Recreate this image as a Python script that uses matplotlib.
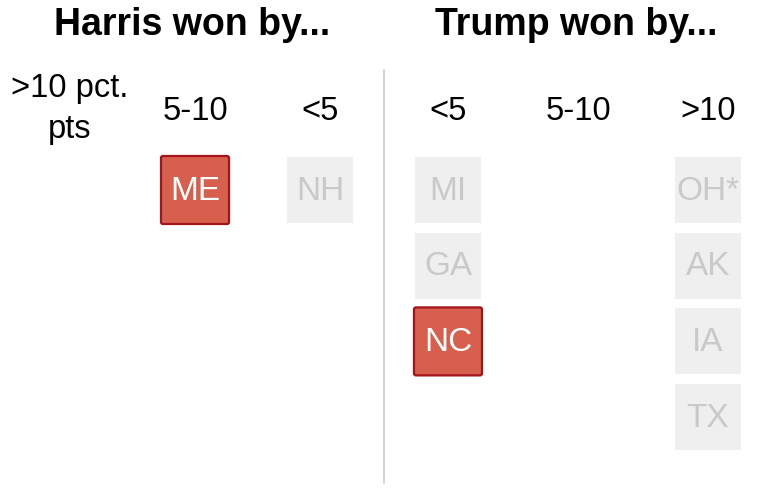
import matplotlib.pyplot as plt
from matplotlib.patches import FancyBboxPatch

# groups and column labels
headers = ["Harris won by...", "Trump won by..."]
harris_cols = [">10 pct.\npts", "5-10", "<5"]
trump_cols = ["<5", "5-10", ">10"]

# states: column (0-2 Harris, 3-5 Trump), row within column, flipped or not
states = ["ME", "NH", "MI", "GA", "NC", "OH*", "AK", "IA", "TX"]
state_col = [1, 2, 3, 3, 3, 5, 5, 5, 5]
state_row = [0, 0, 0, 1, 2, 0, 1, 2, 3]
flipped = [True, False, False, False, True, False, False, False, False]

red = '#d6604d'
red_edge = '#a3151a'
grey = '#efefef'
grey_text = '#c9c9c9'

font = ['Liberation Sans', 'DejaVu Sans']


def col_x(c):
    # column centres in pixels
    if c < 3:
        return 70 + 125 * c
    return 448 + 130 * (c - 3)


def row_y(r):
    return 190 + 75.7 * r


fig = plt.figure(figsize=(7.68, 4.88), dpi=100)
ax = fig.add_axes([0, 0, 1, 1])
ax.set_xlim(0, 768)
ax.set_ylim(488, 0)
ax.axis('off')

# headers
ax.text(192, 35, headers[0], ha='center', va='baseline', fontsize=27,
        fontweight='bold', family=font)
ax.text(576, 35, headers[1], ha='center', va='baseline', fontsize=27,
        fontweight='bold', family=font)

# column labels
for i, lab in enumerate(harris_cols + trump_cols):
    lines = lab.split('\n')
    base = 120 if len(lines) == 1 else 97
    for k, line in enumerate(lines):
        ax.text(col_x(i), base + 41 * k, line, ha='center', va='baseline',
                fontsize=23.5, family=font)

# divider
ax.plot([384, 384], [70, 483], color='#cccccc', lw=1.2)

# state boxes
for name, c, r, f in zip(states, state_col, state_row, flipped):
    x, y = col_x(c), row_y(r)
    if f:
        s = 68
        box = FancyBboxPatch((x - s / 2, y - s / 2), s, s,
                             boxstyle='round,pad=0,rounding_size=2',
                             facecolor=red, edgecolor=red_edge, lw=1.6)
        tc = 'white'
    else:
        s = 66
        box = FancyBboxPatch((x - s / 2, y - s / 2), s, s,
                             boxstyle='square,pad=0',
                             facecolor=grey, edgecolor='none')
        tc = grey_text
    ax.add_patch(box)
    ax.text(x, y + 1, name, ha='center', va='center', fontsize=24,
            color=tc, family=font)

fig.savefig('out.png', dpi=100)
